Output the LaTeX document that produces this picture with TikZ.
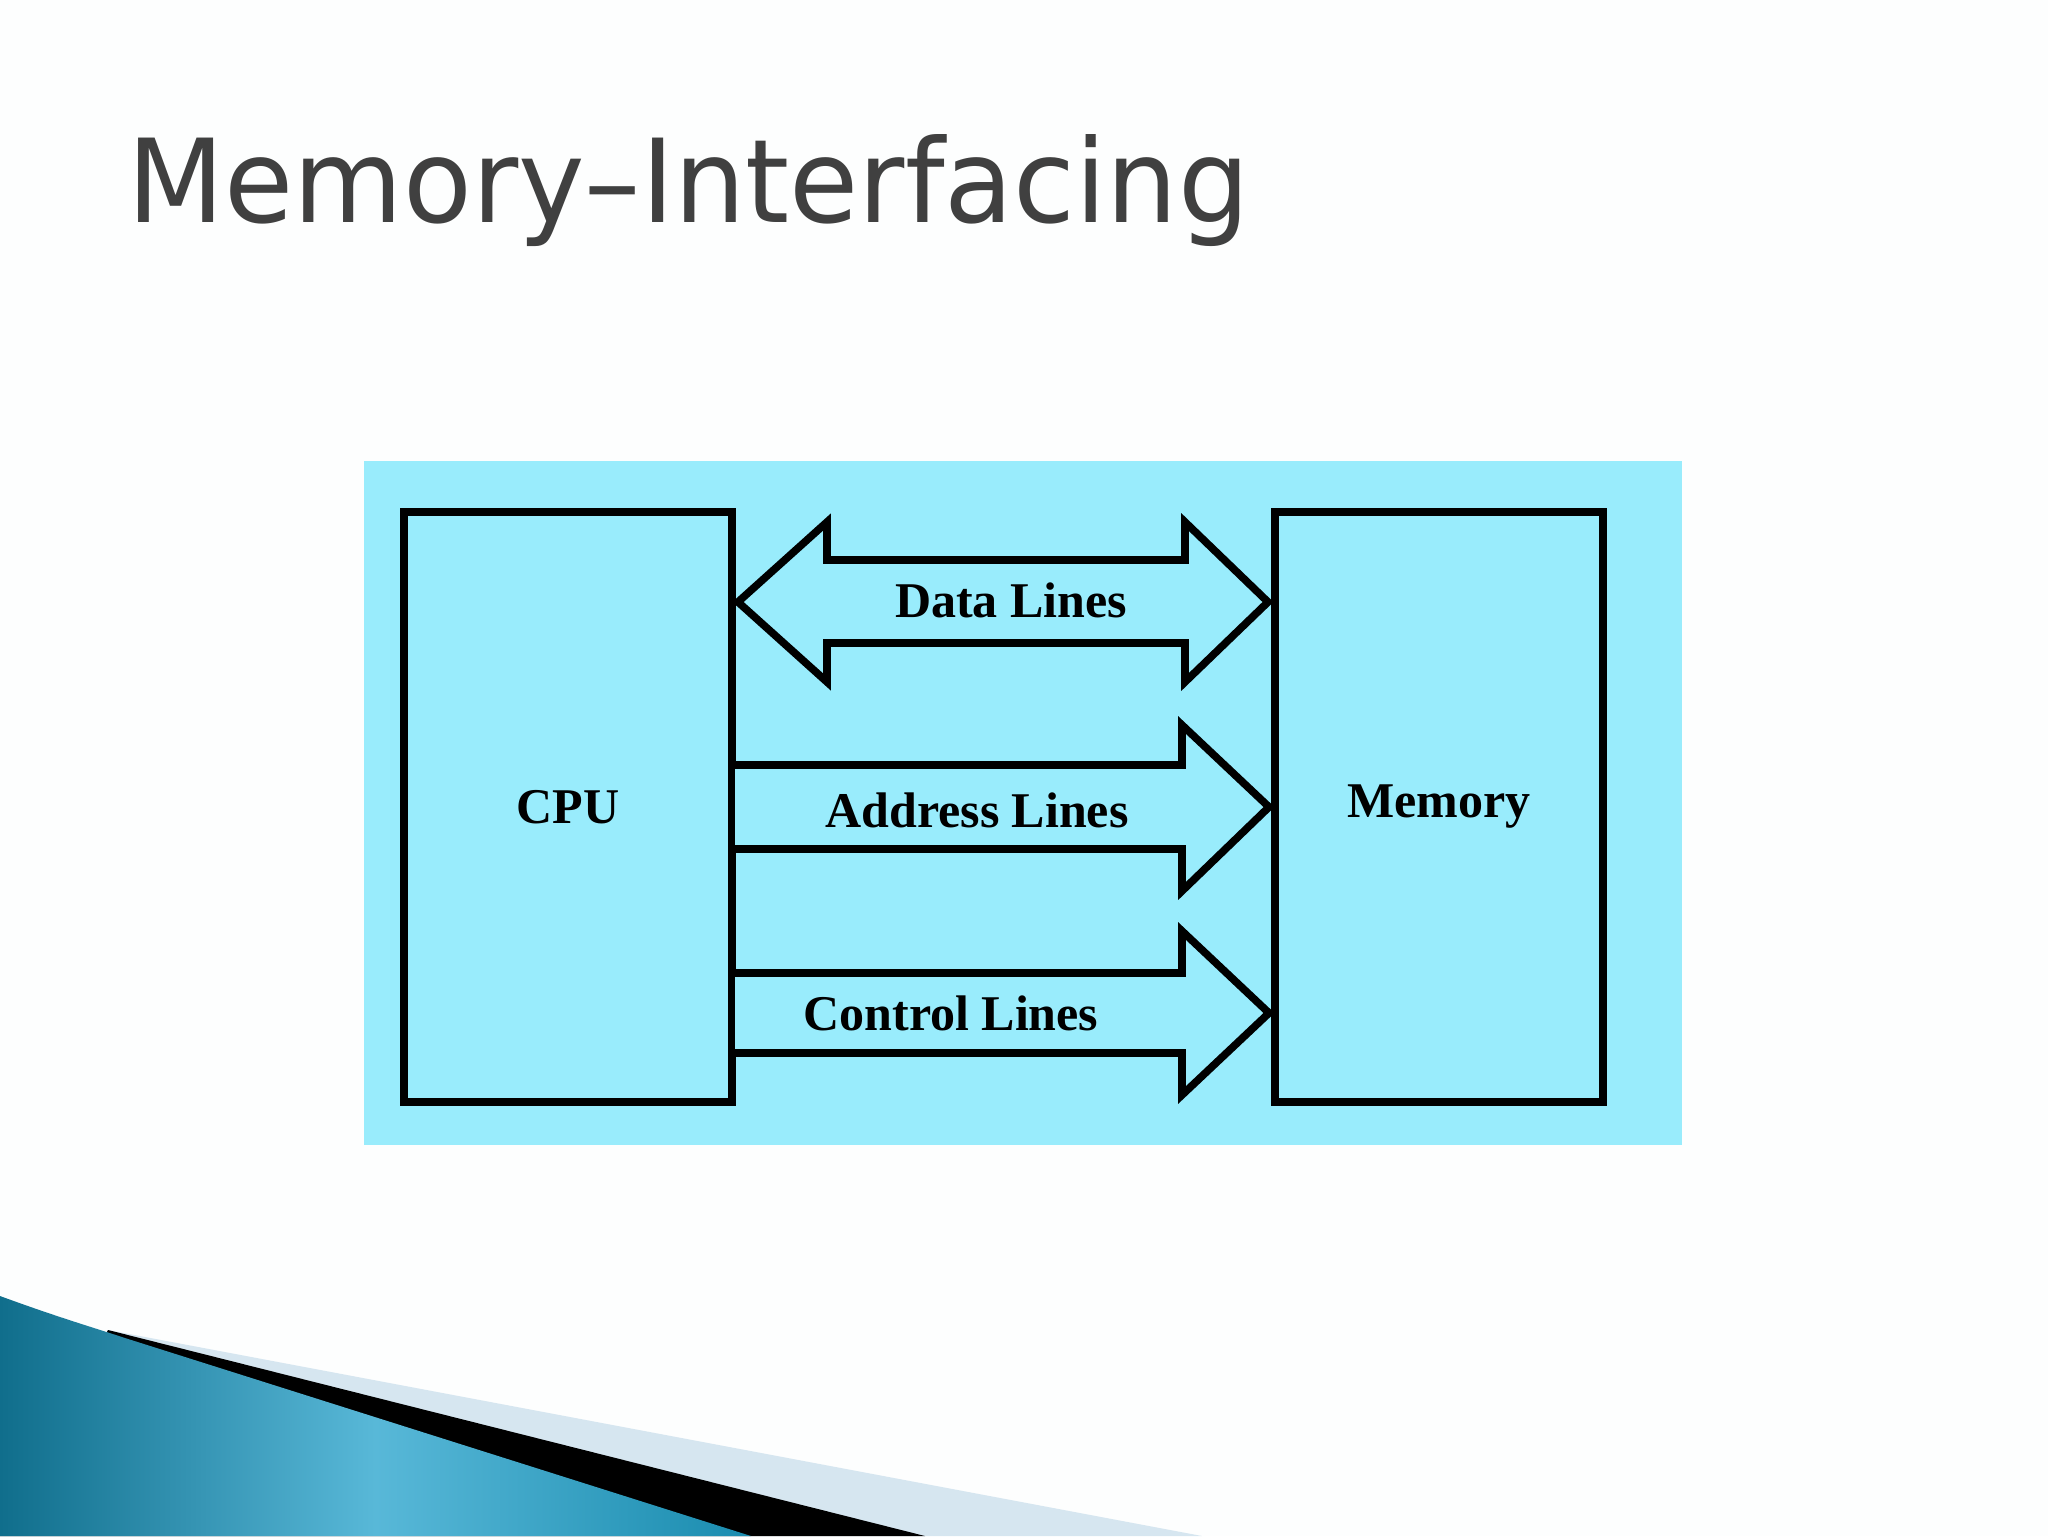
\documentclass[tikz,border=0pt]{standalone}
\usepackage{fontspec}
\setmainfont{Liberation Serif}
\newfontfamily\titlefont{DejaVu Sans}
\usetikzlibrary{calc}
\definecolor{bgcyan}{RGB}{153,236,252}
\definecolor{titlegray}{RGB}{64,64,64}
\definecolor{tealdark}{RGB}{16,110,140}
\definecolor{teallight}{RGB}{88,184,216}
\definecolor{tealmid}{RGB}{26,140,175}
\definecolor{paleband}{RGB}{214,230,240}
\definecolor{pagebg}{RGB}{253,254,254}
\begin{document}
\begin{tikzpicture}[x=0.5pt,y=-0.5pt,
  box/.style={draw=black, line width=4pt, fill=bgcyan, rectangle,
    minimum width=164pt, minimum height=295pt, inner sep=0pt,
    font=\fontsize{25}{30}\selectfont\bfseries},
  busarrow/.style={draw=black, line width=3.8pt, fill=bgcyan, line join=miter},
  buslabel/.style={font=\fontsize{25}{30}\selectfont\bfseries, inner sep=0pt, anchor=center}]
\useasboundingbox (0,0) rectangle (2048,1536);
\fill[pagebg] (0,0) rectangle (2048,1536);
% bottom decoration
\fill[paleband] (108,1330) -- (1202,1536) -- (0,1536) -- cycle;
\fill[black] (108,1330) -- (925,1536) -- (0,1536) -- cycle;
\shade[left color=tealdark, right color=tealmid, middle color=teallight]
  (0,1296) .. controls (60,1318) and (95,1328) .. (125,1338) -- (751,1536) -- (0,1536) -- cycle;
% title
\node[anchor=base west, inner sep=0pt, text=titlegray] (title) at (127,222)
  {\resizebox{561pt}{44pt}{\titlefont Memory–Interfacing}};
% diagram background
\fill[bgcyan] (364,461) rectangle (1682,1145);
% boxes
\node[box] (cpu) at (568,807) {CPU};
\node[box] (mem) at (1439,807) {Memory};
% data lines (double arrow)
\draw[busarrow] (738,602) -- (827,522) -- (827,560) -- (1185,560) -- (1185,522) -- (1268,602)
  -- (1185,682) -- (1185,643) -- (827,643) -- (827,682) -- cycle;
% address lines
\fill[bgcyan] (735,765) -- (1182,765) -- (1182,725) -- (1269,807) -- (1182,891) -- (1182,849) -- (735,849) -- cycle;
\draw[busarrow, fill=none] (733,765) -- (1182,765) -- (1182,725) -- (1269,807) -- (1182,891) -- (1182,849) -- (733,849);
% control lines
\fill[bgcyan] (735,973) -- (1182,973) -- (1182,931) -- (1269,1013) -- (1182,1095) -- (1182,1053) -- (735,1053) -- cycle;
\draw[busarrow, fill=none] (733,973) -- (1182,973) -- (1182,931) -- (1269,1013) -- (1182,1095) -- (1182,1053) -- (733,1053);
% labels
\node[buslabel] (datalbl) at (1011,600) {Data Lines};
\node[buslabel] (addrlbl) at (977,810) {Address Lines};
\node[buslabel] (ctrllbl) at (951,1013) {Control Lines};
\end{tikzpicture}
\end{document}
